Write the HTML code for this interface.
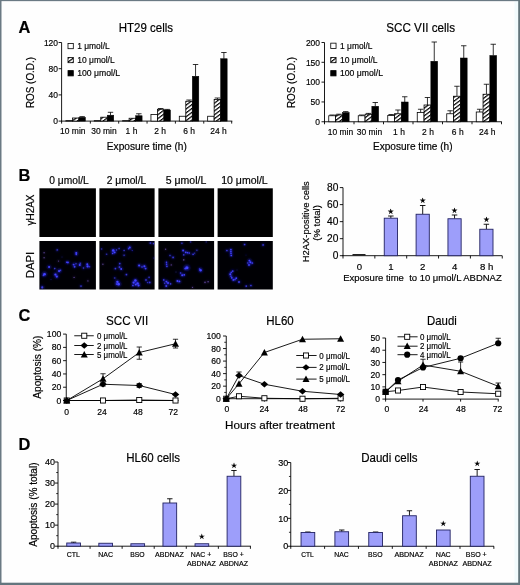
<!DOCTYPE html>
<html lang="en">
<head>
<meta charset="utf-8">
<title>Figure</title>
<style>
html,body{margin:0;padding:0;background:#fff;}
body{width:520px;height:585px;overflow:hidden;}
svg{display:block;font-family:"Liberation Sans", sans-serif;}
text{white-space:pre;stroke:#000;stroke-width:0.18px;}
</style>
</head>
<body>
<svg width="520" height="585" viewBox="0 0 520 585">
<defs>
<pattern id="hatch" patternUnits="userSpaceOnUse" width="3.1" height="3.1" patternTransform="rotate(-37)">
<rect width="3.1" height="3.1" fill="#fff"/>
<rect x="0" y="0" width="3.1" height="1.2" fill="#000"/>
</pattern>
<clipPath id="dapiclip"><rect x="39.4" y="241" width="56.50" height="48.5"/><rect x="99.4" y="241" width="55.20" height="48.5"/><rect x="158.4" y="241" width="55.70" height="48.5"/><rect x="217.6" y="241" width="55.20" height="48.5"/></clipPath>
<filter id="blur" x="-5%" y="-5%" width="110%" height="110%"><feGaussianBlur stdDeviation="0.4"/></filter>
<filter id="blur2" x="-5%" y="-5%" width="110%" height="110%"><feGaussianBlur stdDeviation="0.8"/></filter>
</defs>
<rect x="0" y="0" width="520" height="585" fill="#fefefe"/>
<text x="18.60" y="32.60" font-size="16.4" text-anchor="start" fill="#000" font-weight="bold">A</text>
<line x1="61.60" y1="42.50" x2="61.60" y2="121.50" stroke="#000" stroke-width="0.9"/>
<line x1="61.20" y1="121.10" x2="232.30" y2="121.10" stroke="#000" stroke-width="0.9"/>
<line x1="58.60" y1="121.10" x2="61.60" y2="121.10" stroke="#000" stroke-width="0.9"/>
<text x="58.00" y="124.30" font-size="9.3" text-anchor="end" fill="#000" textLength="4.71" lengthAdjust="spacingAndGlyphs">0</text>
<line x1="58.60" y1="94.90" x2="61.60" y2="94.90" stroke="#000" stroke-width="0.9"/>
<text x="58.00" y="98.10" font-size="9.3" text-anchor="end" fill="#000" textLength="9.41" lengthAdjust="spacingAndGlyphs">40</text>
<line x1="58.60" y1="68.70" x2="61.60" y2="68.70" stroke="#000" stroke-width="0.9"/>
<text x="58.00" y="71.90" font-size="9.3" text-anchor="end" fill="#000" textLength="9.41" lengthAdjust="spacingAndGlyphs">80</text>
<line x1="58.60" y1="42.50" x2="61.60" y2="42.50" stroke="#000" stroke-width="0.9"/>
<text x="58.00" y="45.70" font-size="9.3" text-anchor="end" fill="#000" textLength="14.12" lengthAdjust="spacingAndGlyphs">120</text>
<line x1="61.60" y1="121.10" x2="61.60" y2="123.60" stroke="#000" stroke-width="0.9"/>
<line x1="90.35" y1="121.10" x2="90.35" y2="123.60" stroke="#000" stroke-width="0.9"/>
<line x1="118.70" y1="121.10" x2="118.70" y2="123.60" stroke="#000" stroke-width="0.9"/>
<line x1="147.05" y1="121.10" x2="147.05" y2="123.60" stroke="#000" stroke-width="0.9"/>
<line x1="175.40" y1="121.10" x2="175.40" y2="123.60" stroke="#000" stroke-width="0.9"/>
<line x1="203.75" y1="121.10" x2="203.75" y2="123.60" stroke="#000" stroke-width="0.9"/>
<line x1="231.70" y1="121.10" x2="231.70" y2="123.60" stroke="#000" stroke-width="0.9"/>
<rect x="65.90" y="120.60" width="6.50" height="0.50" fill="#fff" stroke="#000" stroke-width="0.8"/>
<rect x="72.40" y="118.00" width="6.50" height="3.10" fill="url(#hatch)" stroke="#000" stroke-width="0.8"/>
<line x1="82.15" y1="116.60" x2="82.15" y2="117.30" stroke="#000" stroke-width="0.8"/>
<line x1="79.45" y1="116.60" x2="84.85" y2="116.60" stroke="#000" stroke-width="0.8"/>
<rect x="78.90" y="117.30" width="6.50" height="3.80" fill="#000" stroke="#000" stroke-width="0.5"/>
<rect x="94.25" y="120.60" width="6.50" height="0.50" fill="#fff" stroke="#000" stroke-width="0.8"/>
<rect x="100.75" y="117.20" width="6.50" height="3.90" fill="url(#hatch)" stroke="#000" stroke-width="0.8"/>
<line x1="110.50" y1="112.30" x2="110.50" y2="115.20" stroke="#000" stroke-width="0.8"/>
<line x1="107.80" y1="112.30" x2="113.20" y2="112.30" stroke="#000" stroke-width="0.8"/>
<rect x="107.25" y="115.20" width="6.50" height="5.90" fill="#000" stroke="#000" stroke-width="0.5"/>
<rect x="122.60" y="120.60" width="6.50" height="0.50" fill="#fff" stroke="#000" stroke-width="0.8"/>
<rect x="129.10" y="118.25" width="6.50" height="2.85" fill="url(#hatch)" stroke="#000" stroke-width="0.8"/>
<line x1="138.85" y1="113.75" x2="138.85" y2="115.75" stroke="#000" stroke-width="0.8"/>
<line x1="136.15" y1="113.75" x2="141.55" y2="113.75" stroke="#000" stroke-width="0.8"/>
<rect x="135.60" y="115.75" width="6.50" height="5.35" fill="#000" stroke="#000" stroke-width="0.5"/>
<rect x="150.95" y="114.50" width="6.50" height="6.60" fill="#fff" stroke="#000" stroke-width="0.8"/>
<line x1="160.70" y1="108.50" x2="160.70" y2="109.25" stroke="#000" stroke-width="0.8"/>
<line x1="158.00" y1="108.50" x2="163.40" y2="108.50" stroke="#000" stroke-width="0.8"/>
<rect x="157.45" y="109.25" width="6.50" height="11.85" fill="url(#hatch)" stroke="#000" stroke-width="0.8"/>
<line x1="167.20" y1="109.40" x2="167.20" y2="110.00" stroke="#000" stroke-width="0.8"/>
<line x1="164.50" y1="109.40" x2="169.90" y2="109.40" stroke="#000" stroke-width="0.8"/>
<rect x="163.95" y="110.00" width="6.50" height="11.10" fill="#000" stroke="#000" stroke-width="0.5"/>
<rect x="179.30" y="116.25" width="6.50" height="4.85" fill="#fff" stroke="#000" stroke-width="0.8"/>
<line x1="189.05" y1="100.00" x2="189.05" y2="101.25" stroke="#000" stroke-width="0.8"/>
<line x1="186.35" y1="100.00" x2="191.75" y2="100.00" stroke="#000" stroke-width="0.8"/>
<rect x="185.80" y="101.25" width="6.50" height="19.85" fill="url(#hatch)" stroke="#000" stroke-width="0.8"/>
<line x1="195.55" y1="64.50" x2="195.55" y2="76.25" stroke="#000" stroke-width="0.8"/>
<line x1="192.85" y1="64.50" x2="198.25" y2="64.50" stroke="#000" stroke-width="0.8"/>
<rect x="192.30" y="76.25" width="6.50" height="44.85" fill="#000" stroke="#000" stroke-width="0.5"/>
<rect x="207.65" y="116.25" width="6.50" height="4.85" fill="#fff" stroke="#000" stroke-width="0.8"/>
<line x1="217.40" y1="98.00" x2="217.40" y2="99.50" stroke="#000" stroke-width="0.8"/>
<line x1="214.70" y1="98.00" x2="220.10" y2="98.00" stroke="#000" stroke-width="0.8"/>
<rect x="214.15" y="99.50" width="6.50" height="21.60" fill="url(#hatch)" stroke="#000" stroke-width="0.8"/>
<line x1="223.90" y1="52.50" x2="223.90" y2="58.75" stroke="#000" stroke-width="0.8"/>
<line x1="221.20" y1="52.50" x2="226.60" y2="52.50" stroke="#000" stroke-width="0.8"/>
<rect x="220.65" y="58.75" width="6.50" height="62.35" fill="#000" stroke="#000" stroke-width="0.5"/>
<text x="72.80" y="133.90" font-size="9.4" text-anchor="middle" fill="#000" textLength="25.39" lengthAdjust="spacingAndGlyphs">10 min</text>
<text x="104.00" y="133.90" font-size="9.4" text-anchor="middle" fill="#000" textLength="25.39" lengthAdjust="spacingAndGlyphs">30 min</text>
<text x="131.50" y="133.90" font-size="9.4" text-anchor="middle" fill="#000" textLength="11.76" lengthAdjust="spacingAndGlyphs">1 h</text>
<text x="160.20" y="133.90" font-size="9.4" text-anchor="middle" fill="#000" textLength="11.76" lengthAdjust="spacingAndGlyphs">2 h</text>
<text x="189.10" y="133.90" font-size="9.4" text-anchor="middle" fill="#000" textLength="11.76" lengthAdjust="spacingAndGlyphs">6 h</text>
<text x="218.50" y="133.90" font-size="9.4" text-anchor="middle" fill="#000" textLength="16.47" lengthAdjust="spacingAndGlyphs">24 h</text>
<text x="146.85" y="150.00" font-size="10" text-anchor="middle" fill="#000" textLength="80.10" lengthAdjust="spacingAndGlyphs">Exposure time (h)</text>
<text x="145.85" y="31.50" font-size="12.2" text-anchor="middle" fill="#000" textLength="54.30" lengthAdjust="spacingAndGlyphs">HT29 cells</text>
<text x="34.40" y="82.50" font-size="10" text-anchor="middle" fill="#000" textLength="51.00" lengthAdjust="spacingAndGlyphs" transform="rotate(-90 34.40 82.50)">ROS (O.D.)</text>
<rect x="68.00" y="43.40" width="5.30" height="5.30" fill="#fff" stroke="#000" stroke-width="0.8"/>
<text x="77.20" y="49.10" font-size="9.2" text-anchor="start" fill="#000" textLength="32.50" lengthAdjust="spacingAndGlyphs">1 μmol/L</text>
<rect x="68.00" y="57.40" width="5.30" height="5.30" fill="url(#hatch)" stroke="#000" stroke-width="0.8"/>
<text x="77.20" y="63.10" font-size="9.2" text-anchor="start" fill="#000" textLength="37.50" lengthAdjust="spacingAndGlyphs">10 μmol/L</text>
<rect x="68.00" y="70.60" width="5.30" height="5.30" fill="#000" stroke="#000" stroke-width="0.8"/>
<text x="77.20" y="76.30" font-size="9.2" text-anchor="start" fill="#000" textLength="43.00" lengthAdjust="spacingAndGlyphs">100 μmol/L</text>
<line x1="324.50" y1="42.50" x2="324.50" y2="122.15" stroke="#000" stroke-width="0.9"/>
<line x1="324.10" y1="121.75" x2="501.70" y2="121.75" stroke="#000" stroke-width="0.9"/>
<line x1="321.50" y1="121.75" x2="324.50" y2="121.75" stroke="#000" stroke-width="0.9"/>
<text x="320.00" y="124.95" font-size="9.3" text-anchor="end" fill="#000" textLength="4.71" lengthAdjust="spacingAndGlyphs">0</text>
<line x1="321.50" y1="101.94" x2="324.50" y2="101.94" stroke="#000" stroke-width="0.9"/>
<text x="320.00" y="105.14" font-size="9.3" text-anchor="end" fill="#000" textLength="9.41" lengthAdjust="spacingAndGlyphs">50</text>
<line x1="321.50" y1="82.12" x2="324.50" y2="82.12" stroke="#000" stroke-width="0.9"/>
<text x="320.00" y="85.33" font-size="9.3" text-anchor="end" fill="#000" textLength="14.12" lengthAdjust="spacingAndGlyphs">100</text>
<line x1="321.50" y1="62.31" x2="324.50" y2="62.31" stroke="#000" stroke-width="0.9"/>
<text x="320.00" y="65.51" font-size="9.3" text-anchor="end" fill="#000" textLength="14.12" lengthAdjust="spacingAndGlyphs">150</text>
<line x1="321.50" y1="42.50" x2="324.50" y2="42.50" stroke="#000" stroke-width="0.9"/>
<text x="320.00" y="45.70" font-size="9.3" text-anchor="end" fill="#000" textLength="14.12" lengthAdjust="spacingAndGlyphs">200</text>
<line x1="324.50" y1="121.75" x2="324.50" y2="124.25" stroke="#000" stroke-width="0.9"/>
<line x1="354.00" y1="121.75" x2="354.00" y2="124.25" stroke="#000" stroke-width="0.9"/>
<line x1="383.50" y1="121.75" x2="383.50" y2="124.25" stroke="#000" stroke-width="0.9"/>
<line x1="413.00" y1="121.75" x2="413.00" y2="124.25" stroke="#000" stroke-width="0.9"/>
<line x1="442.50" y1="121.75" x2="442.50" y2="124.25" stroke="#000" stroke-width="0.9"/>
<line x1="472.00" y1="121.75" x2="472.00" y2="124.25" stroke="#000" stroke-width="0.9"/>
<line x1="501.50" y1="121.75" x2="501.50" y2="124.25" stroke="#000" stroke-width="0.9"/>
<line x1="332.15" y1="115.00" x2="332.15" y2="115.75" stroke="#000" stroke-width="0.8"/>
<line x1="329.45" y1="115.00" x2="334.85" y2="115.00" stroke="#000" stroke-width="0.8"/>
<rect x="328.75" y="115.75" width="6.80" height="6.00" fill="#fff" stroke="#000" stroke-width="0.8"/>
<line x1="338.95" y1="114.20" x2="338.95" y2="115.00" stroke="#000" stroke-width="0.8"/>
<line x1="336.25" y1="114.20" x2="341.65" y2="114.20" stroke="#000" stroke-width="0.8"/>
<rect x="335.55" y="115.00" width="6.80" height="6.75" fill="url(#hatch)" stroke="#000" stroke-width="0.8"/>
<line x1="345.75" y1="111.60" x2="345.75" y2="112.50" stroke="#000" stroke-width="0.8"/>
<line x1="343.05" y1="111.60" x2="348.45" y2="111.60" stroke="#000" stroke-width="0.8"/>
<rect x="342.35" y="112.50" width="6.80" height="9.25" fill="#000" stroke="#000" stroke-width="0.5"/>
<line x1="361.65" y1="115.00" x2="361.65" y2="115.75" stroke="#000" stroke-width="0.8"/>
<line x1="358.95" y1="115.00" x2="364.35" y2="115.00" stroke="#000" stroke-width="0.8"/>
<rect x="358.25" y="115.75" width="6.80" height="6.00" fill="#fff" stroke="#000" stroke-width="0.8"/>
<line x1="368.45" y1="113.40" x2="368.45" y2="114.25" stroke="#000" stroke-width="0.8"/>
<line x1="365.75" y1="113.40" x2="371.15" y2="113.40" stroke="#000" stroke-width="0.8"/>
<rect x="365.05" y="114.25" width="6.80" height="7.50" fill="url(#hatch)" stroke="#000" stroke-width="0.8"/>
<line x1="375.25" y1="102.50" x2="375.25" y2="106.25" stroke="#000" stroke-width="0.8"/>
<line x1="372.55" y1="102.50" x2="377.95" y2="102.50" stroke="#000" stroke-width="0.8"/>
<rect x="371.85" y="106.25" width="6.80" height="15.50" fill="#000" stroke="#000" stroke-width="0.5"/>
<line x1="391.15" y1="114.50" x2="391.15" y2="115.50" stroke="#000" stroke-width="0.8"/>
<line x1="388.45" y1="114.50" x2="393.85" y2="114.50" stroke="#000" stroke-width="0.8"/>
<rect x="387.75" y="115.50" width="6.80" height="6.25" fill="#fff" stroke="#000" stroke-width="0.8"/>
<line x1="397.95" y1="110.00" x2="397.95" y2="113.75" stroke="#000" stroke-width="0.8"/>
<line x1="395.25" y1="110.00" x2="400.65" y2="110.00" stroke="#000" stroke-width="0.8"/>
<rect x="394.55" y="113.75" width="6.80" height="8.00" fill="url(#hatch)" stroke="#000" stroke-width="0.8"/>
<line x1="404.75" y1="96.75" x2="404.75" y2="102.00" stroke="#000" stroke-width="0.8"/>
<line x1="402.05" y1="96.75" x2="407.45" y2="96.75" stroke="#000" stroke-width="0.8"/>
<rect x="401.35" y="102.00" width="6.80" height="19.75" fill="#000" stroke="#000" stroke-width="0.5"/>
<line x1="420.65" y1="109.25" x2="420.65" y2="112.50" stroke="#000" stroke-width="0.8"/>
<line x1="417.95" y1="109.25" x2="423.35" y2="109.25" stroke="#000" stroke-width="0.8"/>
<rect x="417.25" y="112.50" width="6.80" height="9.25" fill="#fff" stroke="#000" stroke-width="0.8"/>
<line x1="427.45" y1="97.50" x2="427.45" y2="105.00" stroke="#000" stroke-width="0.8"/>
<line x1="424.75" y1="97.50" x2="430.15" y2="97.50" stroke="#000" stroke-width="0.8"/>
<rect x="424.05" y="105.00" width="6.80" height="16.75" fill="url(#hatch)" stroke="#000" stroke-width="0.8"/>
<line x1="434.25" y1="42.00" x2="434.25" y2="61.25" stroke="#000" stroke-width="0.8"/>
<line x1="431.55" y1="42.00" x2="436.95" y2="42.00" stroke="#000" stroke-width="0.8"/>
<rect x="430.85" y="61.25" width="6.80" height="60.50" fill="#000" stroke="#000" stroke-width="0.5"/>
<line x1="450.15" y1="110.75" x2="450.15" y2="113.75" stroke="#000" stroke-width="0.8"/>
<line x1="447.45" y1="110.75" x2="452.85" y2="110.75" stroke="#000" stroke-width="0.8"/>
<rect x="446.75" y="113.75" width="6.80" height="8.00" fill="#fff" stroke="#000" stroke-width="0.8"/>
<line x1="456.95" y1="86.25" x2="456.95" y2="96.25" stroke="#000" stroke-width="0.8"/>
<line x1="454.25" y1="86.25" x2="459.65" y2="86.25" stroke="#000" stroke-width="0.8"/>
<rect x="453.55" y="96.25" width="6.80" height="25.50" fill="url(#hatch)" stroke="#000" stroke-width="0.8"/>
<line x1="463.75" y1="45.75" x2="463.75" y2="58.00" stroke="#000" stroke-width="0.8"/>
<line x1="461.05" y1="45.75" x2="466.45" y2="45.75" stroke="#000" stroke-width="0.8"/>
<rect x="460.35" y="58.00" width="6.80" height="63.75" fill="#000" stroke="#000" stroke-width="0.5"/>
<line x1="479.65" y1="109.25" x2="479.65" y2="112.00" stroke="#000" stroke-width="0.8"/>
<line x1="476.95" y1="109.25" x2="482.35" y2="109.25" stroke="#000" stroke-width="0.8"/>
<rect x="476.25" y="112.00" width="6.80" height="9.75" fill="#fff" stroke="#000" stroke-width="0.8"/>
<line x1="486.45" y1="84.25" x2="486.45" y2="94.25" stroke="#000" stroke-width="0.8"/>
<line x1="483.75" y1="84.25" x2="489.15" y2="84.25" stroke="#000" stroke-width="0.8"/>
<rect x="483.05" y="94.25" width="6.80" height="27.50" fill="url(#hatch)" stroke="#000" stroke-width="0.8"/>
<line x1="493.25" y1="44.25" x2="493.25" y2="55.50" stroke="#000" stroke-width="0.8"/>
<line x1="490.55" y1="44.25" x2="495.95" y2="44.25" stroke="#000" stroke-width="0.8"/>
<rect x="489.85" y="55.50" width="6.80" height="66.25" fill="#000" stroke="#000" stroke-width="0.5"/>
<text x="340.50" y="134.95" font-size="9.4" text-anchor="middle" fill="#000" textLength="25.39" lengthAdjust="spacingAndGlyphs">10 min</text>
<text x="369.40" y="134.95" font-size="9.4" text-anchor="middle" fill="#000" textLength="25.39" lengthAdjust="spacingAndGlyphs">30 min</text>
<text x="399.00" y="134.95" font-size="9.4" text-anchor="middle" fill="#000" textLength="11.76" lengthAdjust="spacingAndGlyphs">1 h</text>
<text x="428.00" y="134.95" font-size="9.4" text-anchor="middle" fill="#000" textLength="11.76" lengthAdjust="spacingAndGlyphs">2 h</text>
<text x="457.75" y="134.95" font-size="9.4" text-anchor="middle" fill="#000" textLength="11.76" lengthAdjust="spacingAndGlyphs">6 h</text>
<text x="487.25" y="134.95" font-size="9.4" text-anchor="middle" fill="#000" textLength="16.47" lengthAdjust="spacingAndGlyphs">24 h</text>
<text x="412.75" y="150.00" font-size="10" text-anchor="middle" fill="#000" textLength="79.50" lengthAdjust="spacingAndGlyphs">Exposure time (h)</text>
<text x="420.62" y="31.50" font-size="12.2" text-anchor="middle" fill="#000" textLength="68.75" lengthAdjust="spacingAndGlyphs">SCC VII cells</text>
<text x="295.20" y="82.50" font-size="10" text-anchor="middle" fill="#000" textLength="51.00" lengthAdjust="spacingAndGlyphs" transform="rotate(-90 295.20 82.50)">ROS (O.D.)</text>
<rect x="330.75" y="43.15" width="5.30" height="5.30" fill="#fff" stroke="#000" stroke-width="0.8"/>
<text x="340.00" y="48.85" font-size="9.2" text-anchor="start" fill="#000" textLength="32.50" lengthAdjust="spacingAndGlyphs">1 μmol/L</text>
<rect x="330.75" y="57.40" width="5.30" height="5.30" fill="url(#hatch)" stroke="#000" stroke-width="0.8"/>
<text x="340.00" y="63.10" font-size="9.2" text-anchor="start" fill="#000" textLength="37.50" lengthAdjust="spacingAndGlyphs">10 μmol/L</text>
<rect x="330.75" y="70.60" width="5.30" height="5.30" fill="#000" stroke="#000" stroke-width="0.8"/>
<text x="340.00" y="76.30" font-size="9.2" text-anchor="start" fill="#000" textLength="43.00" lengthAdjust="spacingAndGlyphs">100 μmol/L</text>
<text x="18.40" y="181.40" font-size="16.4" text-anchor="start" fill="#000" font-weight="bold">B</text>
<rect x="39.40" y="188.30" width="56.50" height="48.70" fill="#000"/>
<rect x="39.40" y="241.00" width="56.50" height="48.50" fill="#000004"/>
<text x="69.00" y="184.30" font-size="10.2" text-anchor="middle" fill="#000" textLength="39.50" lengthAdjust="spacingAndGlyphs">0 μmol/L</text>
<rect x="99.40" y="188.30" width="55.20" height="48.70" fill="#000"/>
<rect x="99.40" y="241.00" width="55.20" height="48.50" fill="#000004"/>
<text x="126.45" y="184.30" font-size="10.2" text-anchor="middle" fill="#000" textLength="39.50" lengthAdjust="spacingAndGlyphs">2 μmol/L</text>
<rect x="158.40" y="188.30" width="55.70" height="48.70" fill="#000"/>
<rect x="158.40" y="241.00" width="55.70" height="48.50" fill="#000004"/>
<text x="186.00" y="184.30" font-size="10.2" text-anchor="middle" fill="#000" textLength="40.50" lengthAdjust="spacingAndGlyphs">5 μmol/L</text>
<rect x="217.60" y="188.30" width="55.20" height="48.70" fill="#000"/>
<rect x="217.60" y="241.00" width="55.20" height="48.50" fill="#000004"/>
<text x="244.47" y="184.30" font-size="10.2" text-anchor="middle" fill="#000" textLength="46.45" lengthAdjust="spacingAndGlyphs">10 μmol/L</text>
<text x="33.60" y="210.00" font-size="10.5" text-anchor="middle" fill="#000" textLength="31.00" lengthAdjust="spacingAndGlyphs" transform="rotate(-90 33.60 210.00)">γH2AX</text>
<text x="33.60" y="265.00" font-size="10.8" text-anchor="middle" fill="#000" textLength="26.40" lengthAdjust="spacingAndGlyphs" transform="rotate(-90 33.60 265.00)">DAPI</text>
<g clip-path="url(#dapiclip)">
<g filter="url(#blur2)">
<circle cx="44.10" cy="252.75" r="1.30" fill="rgba(90,60,170,0.25)"/>
<circle cx="44.10" cy="257.75" r="1.30" fill="rgba(90,60,170,0.23)"/>
<circle cx="57.25" cy="249.90" r="1.74" fill="rgba(36,36,235,0.33)"/>
<circle cx="76.25" cy="253.00" r="1.89" fill="rgba(36,36,235,0.55)"/>
<circle cx="76.25" cy="254.50" r="1.45" fill="rgba(36,36,235,0.55)"/>
<circle cx="67.90" cy="262.40" r="1.74" fill="rgba(36,36,235,0.55)"/>
<circle cx="66.60" cy="262.20" r="1.30" fill="rgba(36,36,235,0.50)"/>
<circle cx="58.50" cy="261.10" r="1.30" fill="rgba(90,60,170,0.23)"/>
<circle cx="73.60" cy="264.60" r="1.74" fill="rgba(36,36,235,0.50)"/>
<circle cx="74.60" cy="266.80" r="1.74" fill="rgba(36,36,235,0.50)"/>
<circle cx="76.00" cy="263.80" r="1.30" fill="rgba(36,36,235,0.44)"/>
<circle cx="79.75" cy="264.90" r="1.89" fill="rgba(36,36,235,0.55)"/>
<circle cx="80.20" cy="263.20" r="1.30" fill="rgba(36,36,235,0.44)"/>
<circle cx="87.25" cy="264.20" r="1.74" fill="rgba(36,36,235,0.55)"/>
<circle cx="87.60" cy="266.40" r="2.03" fill="rgba(36,36,235,0.55)"/>
<circle cx="83.50" cy="268.00" r="1.45" fill="rgba(36,36,235,0.44)"/>
<circle cx="89.50" cy="266.80" r="1.30" fill="rgba(36,36,235,0.39)"/>
<circle cx="49.10" cy="267.00" r="1.89" fill="rgba(36,36,235,0.55)"/>
<circle cx="54.75" cy="268.60" r="1.45" fill="rgba(36,36,235,0.44)"/>
<circle cx="59.10" cy="271.10" r="2.03" fill="rgba(36,36,235,0.55)"/>
<circle cx="60.50" cy="270.20" r="1.45" fill="rgba(36,36,235,0.44)"/>
<circle cx="44.50" cy="274.25" r="2.46" fill="rgba(36,36,235,0.55)"/>
<circle cx="43.40" cy="275.50" r="1.45" fill="rgba(36,36,235,0.44)"/>
<circle cx="55.40" cy="274.60" r="2.03" fill="rgba(36,36,235,0.55)"/>
<circle cx="56.80" cy="276.60" r="2.03" fill="rgba(36,36,235,0.55)"/>
<circle cx="74.10" cy="277.40" r="1.30" fill="rgba(90,60,170,0.23)"/>
<circle cx="87.90" cy="280.90" r="1.30" fill="rgba(90,60,170,0.23)"/>
<circle cx="81.00" cy="286.10" r="1.59" fill="rgba(36,36,235,0.39)"/>
<circle cx="42.25" cy="287.40" r="2.03" fill="rgba(36,36,235,0.44)"/>
<circle cx="51.00" cy="279.50" r="1.16" fill="rgba(36,36,235,0.17)"/>
<circle cx="62.00" cy="257.00" r="1.16" fill="rgba(36,36,235,0.14)"/>
<circle cx="101.60" cy="249.00" r="1.45" fill="rgba(36,36,235,0.33)"/>
<circle cx="106.60" cy="254.25" r="1.45" fill="rgba(36,36,235,0.33)"/>
<circle cx="113.20" cy="250.60" r="2.32" fill="rgba(36,36,235,0.55)"/>
<circle cx="114.60" cy="252.40" r="1.74" fill="rgba(36,36,235,0.55)"/>
<circle cx="112.60" cy="253.50" r="1.45" fill="rgba(36,36,235,0.50)"/>
<circle cx="116.50" cy="250.00" r="1.30" fill="rgba(36,36,235,0.44)"/>
<circle cx="119.10" cy="248.60" r="1.45" fill="rgba(36,36,235,0.39)"/>
<circle cx="124.10" cy="250.50" r="1.45" fill="rgba(36,36,235,0.39)"/>
<circle cx="124.10" cy="255.25" r="1.45" fill="rgba(36,36,235,0.39)"/>
<circle cx="129.75" cy="247.40" r="1.89" fill="rgba(36,36,235,0.55)"/>
<circle cx="128.60" cy="248.80" r="1.45" fill="rgba(36,36,235,0.50)"/>
<circle cx="132.25" cy="250.50" r="1.30" fill="rgba(36,36,235,0.28)"/>
<circle cx="150.40" cy="243.00" r="1.59" fill="rgba(36,36,235,0.44)"/>
<circle cx="153.50" cy="243.60" r="1.45" fill="rgba(36,36,235,0.44)"/>
<circle cx="154.10" cy="258.00" r="1.16" fill="rgba(36,36,235,0.33)"/>
<circle cx="102.90" cy="264.25" r="1.30" fill="rgba(90,60,170,0.23)"/>
<circle cx="119.75" cy="263.60" r="1.59" fill="rgba(36,36,235,0.44)"/>
<circle cx="115.40" cy="268.60" r="1.59" fill="rgba(36,36,235,0.44)"/>
<circle cx="119.40" cy="267.00" r="1.59" fill="rgba(36,36,235,0.50)"/>
<circle cx="121.20" cy="269.00" r="1.74" fill="rgba(36,36,235,0.55)"/>
<circle cx="139.10" cy="265.50" r="1.89" fill="rgba(36,36,235,0.55)"/>
<circle cx="142.00" cy="267.00" r="1.45" fill="rgba(36,36,235,0.50)"/>
<circle cx="144.40" cy="266.20" r="1.89" fill="rgba(36,36,235,0.55)"/>
<circle cx="145.60" cy="268.60" r="1.74" fill="rgba(36,36,235,0.50)"/>
<circle cx="126.40" cy="274.60" r="1.59" fill="rgba(36,36,235,0.44)"/>
<circle cx="114.75" cy="278.00" r="1.45" fill="rgba(36,36,235,0.39)"/>
<circle cx="117.40" cy="281.80" r="2.17" fill="rgba(36,36,235,0.55)"/>
<circle cx="118.60" cy="284.20" r="2.46" fill="rgba(36,36,235,0.55)"/>
<circle cx="116.60" cy="284.00" r="1.59" fill="rgba(36,36,235,0.50)"/>
<circle cx="135.40" cy="280.60" r="2.32" fill="rgba(36,36,235,0.55)"/>
<circle cx="133.60" cy="282.60" r="2.03" fill="rgba(36,36,235,0.55)"/>
<circle cx="137.60" cy="283.40" r="2.17" fill="rgba(36,36,235,0.55)"/>
<circle cx="138.60" cy="285.40" r="1.89" fill="rgba(36,36,235,0.55)"/>
<circle cx="132.90" cy="285.50" r="1.59" fill="rgba(36,36,235,0.50)"/>
<circle cx="135.80" cy="284.60" r="1.74" fill="rgba(36,36,235,0.55)"/>
<circle cx="146.00" cy="279.90" r="1.59" fill="rgba(36,36,235,0.44)"/>
<circle cx="149.10" cy="277.40" r="1.45" fill="rgba(36,36,235,0.39)"/>
<circle cx="149.75" cy="282.40" r="1.59" fill="rgba(36,36,235,0.44)"/>
<circle cx="147.60" cy="282.60" r="1.30" fill="rgba(36,36,235,0.39)"/>
<circle cx="165.60" cy="249.25" r="1.30" fill="rgba(90,60,170,0.23)"/>
<circle cx="181.90" cy="243.25" r="1.45" fill="rgba(36,36,235,0.39)"/>
<circle cx="190.60" cy="241.90" r="1.30" fill="rgba(36,36,235,0.33)"/>
<circle cx="206.25" cy="241.90" r="1.30" fill="rgba(36,36,235,0.22)"/>
<circle cx="183.10" cy="250.50" r="1.74" fill="rgba(36,36,235,0.55)"/>
<circle cx="185.80" cy="252.40" r="1.45" fill="rgba(36,36,235,0.55)"/>
<circle cx="187.50" cy="252.75" r="1.45" fill="rgba(36,36,235,0.55)"/>
<circle cx="189.20" cy="253.10" r="1.45" fill="rgba(36,36,235,0.50)"/>
<circle cx="183.75" cy="254.90" r="1.45" fill="rgba(36,36,235,0.44)"/>
<circle cx="193.10" cy="254.25" r="1.59" fill="rgba(36,36,235,0.44)"/>
<circle cx="194.60" cy="253.20" r="1.16" fill="rgba(36,36,235,0.33)"/>
<circle cx="196.90" cy="250.25" r="1.45" fill="rgba(36,36,235,0.33)"/>
<circle cx="170.00" cy="255.50" r="1.45" fill="rgba(36,36,235,0.39)"/>
<circle cx="173.10" cy="257.40" r="1.59" fill="rgba(36,36,235,0.44)"/>
<circle cx="183.75" cy="259.90" r="1.45" fill="rgba(90,60,170,0.23)"/>
<circle cx="166.50" cy="262.20" r="1.45" fill="rgba(36,36,235,0.50)"/>
<circle cx="166.60" cy="264.20" r="1.45" fill="rgba(36,36,235,0.50)"/>
<circle cx="166.90" cy="266.40" r="1.45" fill="rgba(36,36,235,0.50)"/>
<circle cx="171.25" cy="264.90" r="1.30" fill="rgba(90,60,170,0.25)"/>
<circle cx="186.90" cy="267.75" r="2.90" fill="rgba(36,36,235,0.55)"/>
<circle cx="185.20" cy="268.60" r="1.74" fill="rgba(36,36,235,0.50)"/>
<circle cx="200.60" cy="270.25" r="2.17" fill="rgba(36,36,235,0.55)"/>
<circle cx="199.60" cy="269.00" r="1.45" fill="rgba(36,36,235,0.44)"/>
<circle cx="180.60" cy="273.00" r="1.45" fill="rgba(36,36,235,0.44)"/>
<circle cx="182.20" cy="275.20" r="1.74" fill="rgba(36,36,235,0.55)"/>
<circle cx="184.20" cy="274.80" r="1.59" fill="rgba(36,36,235,0.55)"/>
<circle cx="163.75" cy="279.90" r="1.59" fill="rgba(36,36,235,0.44)"/>
<circle cx="166.40" cy="281.60" r="1.74" fill="rgba(36,36,235,0.55)"/>
<circle cx="168.00" cy="283.00" r="1.89" fill="rgba(36,36,235,0.55)"/>
<circle cx="166.25" cy="286.10" r="1.89" fill="rgba(36,36,235,0.50)"/>
<circle cx="170.60" cy="283.90" r="1.45" fill="rgba(36,36,235,0.44)"/>
<circle cx="164.60" cy="283.20" r="1.30" fill="rgba(36,36,235,0.39)"/>
<circle cx="177.40" cy="281.00" r="1.74" fill="rgba(36,36,235,0.55)"/>
<circle cx="179.40" cy="281.40" r="1.74" fill="rgba(36,36,235,0.55)"/>
<circle cx="205.00" cy="282.40" r="1.45" fill="rgba(90,60,170,0.25)"/>
<circle cx="208.10" cy="281.75" r="1.45" fill="rgba(90,60,170,0.25)"/>
<circle cx="192.50" cy="287.40" r="1.30" fill="rgba(90,60,170,0.23)"/>
<circle cx="176.00" cy="272.00" r="1.16" fill="rgba(36,36,235,0.17)"/>
<circle cx="244.60" cy="244.50" r="1.59" fill="rgba(36,36,235,0.44)"/>
<circle cx="263.10" cy="244.90" r="1.59" fill="rgba(36,36,235,0.44)"/>
<circle cx="226.90" cy="250.50" r="1.59" fill="rgba(36,36,235,0.44)"/>
<circle cx="230.90" cy="249.60" r="1.59" fill="rgba(36,36,235,0.55)"/>
<circle cx="230.90" cy="251.60" r="1.45" fill="rgba(36,36,235,0.55)"/>
<circle cx="231.00" cy="253.40" r="1.45" fill="rgba(36,36,235,0.55)"/>
<circle cx="231.25" cy="255.50" r="1.59" fill="rgba(36,36,235,0.55)"/>
<circle cx="249.40" cy="260.60" r="1.74" fill="rgba(36,36,235,0.55)"/>
<circle cx="250.40" cy="262.20" r="1.74" fill="rgba(36,36,235,0.55)"/>
<circle cx="252.30" cy="263.00" r="1.59" fill="rgba(36,36,235,0.50)"/>
<circle cx="249.00" cy="264.90" r="1.74" fill="rgba(36,36,235,0.55)"/>
<circle cx="247.80" cy="263.00" r="1.30" fill="rgba(36,36,235,0.44)"/>
<circle cx="232.75" cy="271.10" r="1.59" fill="rgba(36,36,235,0.50)"/>
<circle cx="231.20" cy="272.40" r="1.45" fill="rgba(36,36,235,0.50)"/>
<circle cx="230.25" cy="274.25" r="1.74" fill="rgba(36,36,235,0.55)"/>
<circle cx="231.00" cy="276.20" r="1.45" fill="rgba(36,36,235,0.50)"/>
<circle cx="231.80" cy="277.80" r="1.59" fill="rgba(36,36,235,0.55)"/>
<circle cx="233.40" cy="279.90" r="1.74" fill="rgba(36,36,235,0.55)"/>
<circle cx="235.00" cy="279.60" r="1.45" fill="rgba(36,36,235,0.50)"/>
<circle cx="236.25" cy="278.20" r="1.59" fill="rgba(36,36,235,0.55)"/>
<circle cx="239.00" cy="282.00" r="1.74" fill="rgba(36,36,235,0.50)"/>
<circle cx="246.25" cy="286.10" r="1.59" fill="rgba(36,36,235,0.44)"/>
<circle cx="250.90" cy="285.50" r="1.59" fill="rgba(36,36,235,0.44)"/>
<circle cx="237.00" cy="270.00" r="1.16" fill="rgba(36,36,235,0.14)"/>
<circle cx="246.00" cy="255.00" r="1.16" fill="rgba(36,36,235,0.11)"/>
</g>
<g filter="url(#blur)">
<circle cx="44.10" cy="252.75" r="0.70" fill="rgba(125,90,200,0.70)"/>
<circle cx="44.10" cy="257.75" r="0.70" fill="rgba(125,90,200,0.65)"/>
<circle cx="57.25" cy="249.90" r="0.94" fill="rgba(66,66,255,0.60)"/>
<circle cx="76.25" cy="253.00" r="1.01" fill="rgba(66,66,255,1.00)"/>
<circle cx="76.25" cy="254.50" r="0.78" fill="rgba(66,66,255,1.00)"/>
<circle cx="67.90" cy="262.40" r="0.94" fill="rgba(66,66,255,1.00)"/>
<circle cx="66.60" cy="262.20" r="0.70" fill="rgba(66,66,255,0.90)"/>
<circle cx="58.50" cy="261.10" r="0.70" fill="rgba(125,90,200,0.65)"/>
<circle cx="73.60" cy="264.60" r="0.94" fill="rgba(66,66,255,0.90)"/>
<circle cx="74.60" cy="266.80" r="0.94" fill="rgba(66,66,255,0.90)"/>
<circle cx="76.00" cy="263.80" r="0.70" fill="rgba(66,66,255,0.80)"/>
<circle cx="79.75" cy="264.90" r="1.01" fill="rgba(66,66,255,1.00)"/>
<circle cx="80.20" cy="263.20" r="0.70" fill="rgba(66,66,255,0.80)"/>
<circle cx="87.25" cy="264.20" r="0.94" fill="rgba(66,66,255,1.00)"/>
<circle cx="87.60" cy="266.40" r="1.09" fill="rgba(66,66,255,1.00)"/>
<circle cx="83.50" cy="268.00" r="0.78" fill="rgba(66,66,255,0.80)"/>
<circle cx="89.50" cy="266.80" r="0.70" fill="rgba(66,66,255,0.70)"/>
<circle cx="49.10" cy="267.00" r="1.01" fill="rgba(66,66,255,1.00)"/>
<circle cx="54.75" cy="268.60" r="0.78" fill="rgba(66,66,255,0.80)"/>
<circle cx="59.10" cy="271.10" r="1.09" fill="rgba(66,66,255,1.00)"/>
<circle cx="60.50" cy="270.20" r="0.78" fill="rgba(66,66,255,0.80)"/>
<circle cx="44.50" cy="274.25" r="1.33" fill="rgba(66,66,255,1.00)"/>
<circle cx="43.40" cy="275.50" r="0.78" fill="rgba(66,66,255,0.80)"/>
<circle cx="55.40" cy="274.60" r="1.09" fill="rgba(66,66,255,1.00)"/>
<circle cx="56.80" cy="276.60" r="1.09" fill="rgba(66,66,255,1.00)"/>
<circle cx="74.10" cy="277.40" r="0.70" fill="rgba(125,90,200,0.65)"/>
<circle cx="87.90" cy="280.90" r="0.70" fill="rgba(125,90,200,0.65)"/>
<circle cx="81.00" cy="286.10" r="0.86" fill="rgba(66,66,255,0.70)"/>
<circle cx="42.25" cy="287.40" r="1.09" fill="rgba(66,66,255,0.80)"/>
<circle cx="51.00" cy="279.50" r="0.62" fill="rgba(66,66,255,0.30)"/>
<circle cx="62.00" cy="257.00" r="0.62" fill="rgba(66,66,255,0.25)"/>
<circle cx="101.60" cy="249.00" r="0.78" fill="rgba(66,66,255,0.60)"/>
<circle cx="106.60" cy="254.25" r="0.78" fill="rgba(66,66,255,0.60)"/>
<circle cx="113.20" cy="250.60" r="1.25" fill="rgba(66,66,255,1.00)"/>
<circle cx="114.60" cy="252.40" r="0.94" fill="rgba(66,66,255,1.00)"/>
<circle cx="112.60" cy="253.50" r="0.78" fill="rgba(66,66,255,0.90)"/>
<circle cx="116.50" cy="250.00" r="0.70" fill="rgba(66,66,255,0.80)"/>
<circle cx="119.10" cy="248.60" r="0.78" fill="rgba(66,66,255,0.70)"/>
<circle cx="124.10" cy="250.50" r="0.78" fill="rgba(66,66,255,0.70)"/>
<circle cx="124.10" cy="255.25" r="0.78" fill="rgba(66,66,255,0.70)"/>
<circle cx="129.75" cy="247.40" r="1.01" fill="rgba(66,66,255,1.00)"/>
<circle cx="128.60" cy="248.80" r="0.78" fill="rgba(66,66,255,0.90)"/>
<circle cx="132.25" cy="250.50" r="0.70" fill="rgba(66,66,255,0.50)"/>
<circle cx="150.40" cy="243.00" r="0.86" fill="rgba(66,66,255,0.80)"/>
<circle cx="153.50" cy="243.60" r="0.78" fill="rgba(66,66,255,0.80)"/>
<circle cx="154.10" cy="258.00" r="0.62" fill="rgba(66,66,255,0.60)"/>
<circle cx="102.90" cy="264.25" r="0.70" fill="rgba(125,90,200,0.65)"/>
<circle cx="119.75" cy="263.60" r="0.86" fill="rgba(66,66,255,0.80)"/>
<circle cx="115.40" cy="268.60" r="0.86" fill="rgba(66,66,255,0.80)"/>
<circle cx="119.40" cy="267.00" r="0.86" fill="rgba(66,66,255,0.90)"/>
<circle cx="121.20" cy="269.00" r="0.94" fill="rgba(66,66,255,1.00)"/>
<circle cx="139.10" cy="265.50" r="1.01" fill="rgba(66,66,255,1.00)"/>
<circle cx="142.00" cy="267.00" r="0.78" fill="rgba(66,66,255,0.90)"/>
<circle cx="144.40" cy="266.20" r="1.01" fill="rgba(66,66,255,1.00)"/>
<circle cx="145.60" cy="268.60" r="0.94" fill="rgba(66,66,255,0.90)"/>
<circle cx="126.40" cy="274.60" r="0.86" fill="rgba(66,66,255,0.80)"/>
<circle cx="114.75" cy="278.00" r="0.78" fill="rgba(66,66,255,0.70)"/>
<circle cx="117.40" cy="281.80" r="1.17" fill="rgba(66,66,255,1.00)"/>
<circle cx="118.60" cy="284.20" r="1.33" fill="rgba(66,66,255,1.00)"/>
<circle cx="116.60" cy="284.00" r="0.86" fill="rgba(66,66,255,0.90)"/>
<circle cx="135.40" cy="280.60" r="1.25" fill="rgba(66,66,255,1.00)"/>
<circle cx="133.60" cy="282.60" r="1.09" fill="rgba(66,66,255,1.00)"/>
<circle cx="137.60" cy="283.40" r="1.17" fill="rgba(66,66,255,1.00)"/>
<circle cx="138.60" cy="285.40" r="1.01" fill="rgba(66,66,255,1.00)"/>
<circle cx="132.90" cy="285.50" r="0.86" fill="rgba(66,66,255,0.90)"/>
<circle cx="135.80" cy="284.60" r="0.94" fill="rgba(66,66,255,1.00)"/>
<circle cx="146.00" cy="279.90" r="0.86" fill="rgba(66,66,255,0.80)"/>
<circle cx="149.10" cy="277.40" r="0.78" fill="rgba(66,66,255,0.70)"/>
<circle cx="149.75" cy="282.40" r="0.86" fill="rgba(66,66,255,0.80)"/>
<circle cx="147.60" cy="282.60" r="0.70" fill="rgba(66,66,255,0.70)"/>
<circle cx="165.60" cy="249.25" r="0.70" fill="rgba(125,90,200,0.65)"/>
<circle cx="181.90" cy="243.25" r="0.78" fill="rgba(66,66,255,0.70)"/>
<circle cx="190.60" cy="241.90" r="0.70" fill="rgba(66,66,255,0.60)"/>
<circle cx="206.25" cy="241.90" r="0.70" fill="rgba(66,66,255,0.40)"/>
<circle cx="183.10" cy="250.50" r="0.94" fill="rgba(66,66,255,1.00)"/>
<circle cx="185.80" cy="252.40" r="0.78" fill="rgba(66,66,255,1.00)"/>
<circle cx="187.50" cy="252.75" r="0.78" fill="rgba(66,66,255,1.00)"/>
<circle cx="189.20" cy="253.10" r="0.78" fill="rgba(66,66,255,0.90)"/>
<circle cx="183.75" cy="254.90" r="0.78" fill="rgba(66,66,255,0.80)"/>
<circle cx="193.10" cy="254.25" r="0.86" fill="rgba(66,66,255,0.80)"/>
<circle cx="194.60" cy="253.20" r="0.62" fill="rgba(66,66,255,0.60)"/>
<circle cx="196.90" cy="250.25" r="0.78" fill="rgba(66,66,255,0.60)"/>
<circle cx="170.00" cy="255.50" r="0.78" fill="rgba(66,66,255,0.70)"/>
<circle cx="173.10" cy="257.40" r="0.86" fill="rgba(66,66,255,0.80)"/>
<circle cx="183.75" cy="259.90" r="0.78" fill="rgba(125,90,200,0.65)"/>
<circle cx="166.50" cy="262.20" r="0.78" fill="rgba(66,66,255,0.90)"/>
<circle cx="166.60" cy="264.20" r="0.78" fill="rgba(66,66,255,0.90)"/>
<circle cx="166.90" cy="266.40" r="0.78" fill="rgba(66,66,255,0.90)"/>
<circle cx="171.25" cy="264.90" r="0.70" fill="rgba(125,90,200,0.70)"/>
<circle cx="186.90" cy="267.75" r="1.56" fill="rgba(66,66,255,1.00)"/>
<circle cx="185.20" cy="268.60" r="0.94" fill="rgba(66,66,255,0.90)"/>
<circle cx="200.60" cy="270.25" r="1.17" fill="rgba(66,66,255,1.00)"/>
<circle cx="199.60" cy="269.00" r="0.78" fill="rgba(66,66,255,0.80)"/>
<circle cx="180.60" cy="273.00" r="0.78" fill="rgba(66,66,255,0.80)"/>
<circle cx="182.20" cy="275.20" r="0.94" fill="rgba(66,66,255,1.00)"/>
<circle cx="184.20" cy="274.80" r="0.86" fill="rgba(66,66,255,1.00)"/>
<circle cx="163.75" cy="279.90" r="0.86" fill="rgba(66,66,255,0.80)"/>
<circle cx="166.40" cy="281.60" r="0.94" fill="rgba(66,66,255,1.00)"/>
<circle cx="168.00" cy="283.00" r="1.01" fill="rgba(66,66,255,1.00)"/>
<circle cx="166.25" cy="286.10" r="1.01" fill="rgba(66,66,255,0.90)"/>
<circle cx="170.60" cy="283.90" r="0.78" fill="rgba(66,66,255,0.80)"/>
<circle cx="164.60" cy="283.20" r="0.70" fill="rgba(66,66,255,0.70)"/>
<circle cx="177.40" cy="281.00" r="0.94" fill="rgba(66,66,255,1.00)"/>
<circle cx="179.40" cy="281.40" r="0.94" fill="rgba(66,66,255,1.00)"/>
<circle cx="205.00" cy="282.40" r="0.78" fill="rgba(125,90,200,0.70)"/>
<circle cx="208.10" cy="281.75" r="0.78" fill="rgba(125,90,200,0.70)"/>
<circle cx="192.50" cy="287.40" r="0.70" fill="rgba(125,90,200,0.65)"/>
<circle cx="176.00" cy="272.00" r="0.62" fill="rgba(66,66,255,0.30)"/>
<circle cx="244.60" cy="244.50" r="0.86" fill="rgba(66,66,255,0.80)"/>
<circle cx="263.10" cy="244.90" r="0.86" fill="rgba(66,66,255,0.80)"/>
<circle cx="226.90" cy="250.50" r="0.86" fill="rgba(66,66,255,0.80)"/>
<circle cx="230.90" cy="249.60" r="0.86" fill="rgba(66,66,255,1.00)"/>
<circle cx="230.90" cy="251.60" r="0.78" fill="rgba(66,66,255,1.00)"/>
<circle cx="231.00" cy="253.40" r="0.78" fill="rgba(66,66,255,1.00)"/>
<circle cx="231.25" cy="255.50" r="0.86" fill="rgba(66,66,255,1.00)"/>
<circle cx="249.40" cy="260.60" r="0.94" fill="rgba(66,66,255,1.00)"/>
<circle cx="250.40" cy="262.20" r="0.94" fill="rgba(66,66,255,1.00)"/>
<circle cx="252.30" cy="263.00" r="0.86" fill="rgba(66,66,255,0.90)"/>
<circle cx="249.00" cy="264.90" r="0.94" fill="rgba(66,66,255,1.00)"/>
<circle cx="247.80" cy="263.00" r="0.70" fill="rgba(66,66,255,0.80)"/>
<circle cx="232.75" cy="271.10" r="0.86" fill="rgba(66,66,255,0.90)"/>
<circle cx="231.20" cy="272.40" r="0.78" fill="rgba(66,66,255,0.90)"/>
<circle cx="230.25" cy="274.25" r="0.94" fill="rgba(66,66,255,1.00)"/>
<circle cx="231.00" cy="276.20" r="0.78" fill="rgba(66,66,255,0.90)"/>
<circle cx="231.80" cy="277.80" r="0.86" fill="rgba(66,66,255,1.00)"/>
<circle cx="233.40" cy="279.90" r="0.94" fill="rgba(66,66,255,1.00)"/>
<circle cx="235.00" cy="279.60" r="0.78" fill="rgba(66,66,255,0.90)"/>
<circle cx="236.25" cy="278.20" r="0.86" fill="rgba(66,66,255,1.00)"/>
<circle cx="239.00" cy="282.00" r="0.94" fill="rgba(66,66,255,0.90)"/>
<circle cx="246.25" cy="286.10" r="0.86" fill="rgba(66,66,255,0.80)"/>
<circle cx="250.90" cy="285.50" r="0.86" fill="rgba(66,66,255,0.80)"/>
<circle cx="237.00" cy="270.00" r="0.62" fill="rgba(66,66,255,0.25)"/>
<circle cx="246.00" cy="255.00" r="0.62" fill="rgba(66,66,255,0.20)"/>
</g>
</g>
<line x1="343.00" y1="187.60" x2="343.00" y2="256.10" stroke="#000" stroke-width="0.9"/>
<line x1="342.60" y1="255.70" x2="502.20" y2="255.70" stroke="#000" stroke-width="0.9"/>
<line x1="339.80" y1="255.70" x2="343.00" y2="255.70" stroke="#000" stroke-width="0.9"/>
<text x="338.40" y="259.30" font-size="10.2" text-anchor="end" fill="#000">0</text>
<line x1="339.80" y1="238.67" x2="343.00" y2="238.67" stroke="#000" stroke-width="0.9"/>
<text x="338.40" y="242.27" font-size="10.2" text-anchor="end" fill="#000">20</text>
<line x1="339.80" y1="221.65" x2="343.00" y2="221.65" stroke="#000" stroke-width="0.9"/>
<text x="338.40" y="225.25" font-size="10.2" text-anchor="end" fill="#000">40</text>
<line x1="339.80" y1="204.62" x2="343.00" y2="204.62" stroke="#000" stroke-width="0.9"/>
<text x="338.40" y="208.22" font-size="10.2" text-anchor="end" fill="#000">60</text>
<line x1="339.80" y1="187.60" x2="343.00" y2="187.60" stroke="#000" stroke-width="0.9"/>
<text x="338.40" y="191.20" font-size="10.2" text-anchor="end" fill="#000">80</text>
<line x1="343.00" y1="255.70" x2="343.00" y2="258.50" stroke="#000" stroke-width="0.9"/>
<line x1="374.85" y1="255.70" x2="374.85" y2="258.50" stroke="#000" stroke-width="0.9"/>
<line x1="406.70" y1="255.70" x2="406.70" y2="258.50" stroke="#000" stroke-width="0.9"/>
<line x1="438.55" y1="255.70" x2="438.55" y2="258.50" stroke="#000" stroke-width="0.9"/>
<line x1="470.40" y1="255.70" x2="470.40" y2="258.50" stroke="#000" stroke-width="0.9"/>
<line x1="502.25" y1="255.70" x2="502.25" y2="258.50" stroke="#000" stroke-width="0.9"/>
<rect x="352.50" y="254.00" width="13.00" height="1.70" fill="#222"/>
<line x1="390.85" y1="216.00" x2="390.85" y2="218.20" stroke="#000" stroke-width="0.9"/>
<line x1="388.10" y1="216.00" x2="393.60" y2="216.00" stroke="#000" stroke-width="0.9"/>
<rect x="384.25" y="218.20" width="13.20" height="37.50" fill="#9d9efa" stroke="#222262" stroke-width="0.9"/>
<text x="390.85" y="214.20" font-size="7.2" text-anchor="middle" fill="#000" font-family='DejaVu Sans, sans-serif'>★</text>
<line x1="422.70" y1="205.50" x2="422.70" y2="214.25" stroke="#000" stroke-width="0.9"/>
<line x1="419.95" y1="205.50" x2="425.45" y2="205.50" stroke="#000" stroke-width="0.9"/>
<rect x="416.10" y="214.25" width="13.20" height="41.45" fill="#9d9efa" stroke="#222262" stroke-width="0.9"/>
<text x="422.70" y="203.45" font-size="7.2" text-anchor="middle" fill="#000" font-family='DejaVu Sans, sans-serif'>★</text>
<line x1="454.55" y1="215.00" x2="454.55" y2="218.75" stroke="#000" stroke-width="0.9"/>
<line x1="451.80" y1="215.00" x2="457.30" y2="215.00" stroke="#000" stroke-width="0.9"/>
<rect x="447.95" y="218.75" width="13.20" height="36.95" fill="#9d9efa" stroke="#222262" stroke-width="0.9"/>
<text x="454.55" y="212.70" font-size="7.2" text-anchor="middle" fill="#000" font-family='DejaVu Sans, sans-serif'>★</text>
<line x1="486.40" y1="224.25" x2="486.40" y2="229.25" stroke="#000" stroke-width="0.9"/>
<line x1="483.65" y1="224.25" x2="489.15" y2="224.25" stroke="#000" stroke-width="0.9"/>
<rect x="479.80" y="229.25" width="13.20" height="26.45" fill="#9d9efa" stroke="#222262" stroke-width="0.9"/>
<text x="486.40" y="221.95" font-size="7.2" text-anchor="middle" fill="#000" font-family='DejaVu Sans, sans-serif'>★</text>
<text x="359.50" y="270.10" font-size="9.6" text-anchor="middle" fill="#000">0</text>
<text x="391.00" y="270.10" font-size="9.6" text-anchor="middle" fill="#000">1</text>
<text x="422.60" y="270.10" font-size="9.6" text-anchor="middle" fill="#000">2</text>
<text x="454.60" y="270.10" font-size="9.6" text-anchor="middle" fill="#000">4</text>
<text x="486.70" y="270.10" font-size="9.6" text-anchor="middle" fill="#000">8 h</text>
<text x="343.25" y="281.30" font-size="9.5" text-anchor="start" fill="#000" textLength="158.50" lengthAdjust="spacingAndGlyphs">Exposure time  to 10 μmol/L ABDNAZ</text>
<text x="308.60" y="221.70" font-size="9.5" text-anchor="middle" fill="#000" textLength="81.00" lengthAdjust="spacingAndGlyphs" transform="rotate(-90 308.60 221.70)">H2AX-positive cells</text>
<text x="319.80" y="222.90" font-size="9.5" text-anchor="middle" fill="#000" textLength="35.70" lengthAdjust="spacingAndGlyphs" transform="rotate(-90 319.80 222.90)">(% total)</text>
<text x="18.50" y="321.40" font-size="16.4" text-anchor="start" fill="#000" font-weight="bold">C</text>
<line x1="66.25" y1="334.10" x2="66.25" y2="400.90" stroke="#000" stroke-width="0.9"/>
<line x1="65.85" y1="400.50" x2="178.50" y2="400.50" stroke="#000" stroke-width="0.9"/>
<line x1="63.05" y1="400.50" x2="66.25" y2="400.50" stroke="#000" stroke-width="0.9"/>
<text x="61.30" y="403.60" font-size="9.4" text-anchor="end" fill="#000" textLength="4.81" lengthAdjust="spacingAndGlyphs">0</text>
<line x1="63.05" y1="387.22" x2="66.25" y2="387.22" stroke="#000" stroke-width="0.9"/>
<text x="61.30" y="390.32" font-size="9.4" text-anchor="end" fill="#000" textLength="9.62" lengthAdjust="spacingAndGlyphs">20</text>
<line x1="63.05" y1="373.94" x2="66.25" y2="373.94" stroke="#000" stroke-width="0.9"/>
<text x="61.30" y="377.04" font-size="9.4" text-anchor="end" fill="#000" textLength="9.62" lengthAdjust="spacingAndGlyphs">40</text>
<line x1="63.05" y1="360.66" x2="66.25" y2="360.66" stroke="#000" stroke-width="0.9"/>
<text x="61.30" y="363.76" font-size="9.4" text-anchor="end" fill="#000" textLength="9.62" lengthAdjust="spacingAndGlyphs">60</text>
<line x1="63.05" y1="347.38" x2="66.25" y2="347.38" stroke="#000" stroke-width="0.9"/>
<text x="61.30" y="350.48" font-size="9.4" text-anchor="end" fill="#000" textLength="9.62" lengthAdjust="spacingAndGlyphs">80</text>
<line x1="63.05" y1="334.10" x2="66.25" y2="334.10" stroke="#000" stroke-width="0.9"/>
<text x="61.30" y="337.20" font-size="9.4" text-anchor="end" fill="#000" textLength="14.43" lengthAdjust="spacingAndGlyphs">100</text>
<text x="127.10" y="325.10" font-size="12.2" text-anchor="middle" fill="#000" textLength="42.20" lengthAdjust="spacingAndGlyphs">SCC VII</text>
<text x="66.75" y="415.00" font-size="9.3" text-anchor="middle" fill="#000" textLength="4.76" lengthAdjust="spacingAndGlyphs">0</text>
<text x="102.00" y="415.00" font-size="9.3" text-anchor="middle" fill="#000" textLength="9.52" lengthAdjust="spacingAndGlyphs">24</text>
<text x="138.00" y="415.00" font-size="9.3" text-anchor="middle" fill="#000" textLength="9.52" lengthAdjust="spacingAndGlyphs">48</text>
<text x="173.25" y="415.00" font-size="9.3" text-anchor="middle" fill="#000" textLength="9.52" lengthAdjust="spacingAndGlyphs">72</text>
<line x1="74.25" y1="335.75" x2="93.75" y2="335.75" stroke="#000" stroke-width="0.9"/>
<rect x="81.70" y="333.20" width="5.10" height="5.10" fill="#fff" stroke="#000" stroke-width="0.9"/>
<text x="97.00" y="338.75" font-size="8.8" text-anchor="start" fill="#000" textLength="30.50" lengthAdjust="spacingAndGlyphs">0 μmol/L</text>
<line x1="74.25" y1="345.50" x2="93.75" y2="345.50" stroke="#000" stroke-width="0.9"/>
<polygon points="80.45,345.50 84.25,342.30 88.05,345.50 84.25,348.70" fill="#000"/>
<text x="97.00" y="348.50" font-size="8.8" text-anchor="start" fill="#000" textLength="30.50" lengthAdjust="spacingAndGlyphs">2 μmol/L</text>
<line x1="74.25" y1="354.50" x2="93.75" y2="354.50" stroke="#000" stroke-width="0.9"/>
<polygon points="80.75,357.40 84.25,350.90 87.75,357.40" fill="#000"/>
<text x="97.00" y="357.50" font-size="8.8" text-anchor="start" fill="#000" textLength="30.50" lengthAdjust="spacingAndGlyphs">5 μmol/L</text>
<polyline points="66.75,400.50 103.00,400.50 139.25,400.00 175.50,400.50" fill="none" stroke="#000" stroke-width="0.9"/>
<rect x="64.20" y="397.95" width="5.10" height="5.10" fill="#fff" stroke="#000" stroke-width="0.9"/>
<rect x="100.45" y="397.95" width="5.10" height="5.10" fill="#fff" stroke="#000" stroke-width="0.9"/>
<rect x="136.70" y="397.45" width="5.10" height="5.10" fill="#fff" stroke="#000" stroke-width="0.9"/>
<rect x="172.95" y="397.95" width="5.10" height="5.10" fill="#fff" stroke="#000" stroke-width="0.9"/>
<polyline points="66.75,400.50 103.00,384.25 139.25,385.50 175.50,394.50" fill="none" stroke="#000" stroke-width="0.9"/>
<line x1="103.00" y1="382.40" x2="103.00" y2="386.10" stroke="#000" stroke-width="0.8"/>
<line x1="100.40" y1="382.40" x2="105.60" y2="382.40" stroke="#000" stroke-width="0.8"/>
<line x1="100.40" y1="386.10" x2="105.60" y2="386.10" stroke="#000" stroke-width="0.8"/>
<line x1="139.25" y1="383.60" x2="139.25" y2="387.40" stroke="#000" stroke-width="0.8"/>
<line x1="136.65" y1="383.60" x2="141.85" y2="383.60" stroke="#000" stroke-width="0.8"/>
<line x1="136.65" y1="387.40" x2="141.85" y2="387.40" stroke="#000" stroke-width="0.8"/>
<polygon points="62.95,400.50 66.75,397.30 70.55,400.50 66.75,403.70" fill="#000"/>
<polygon points="99.20,384.25 103.00,381.05 106.80,384.25 103.00,387.45" fill="#000"/>
<polygon points="135.45,385.50 139.25,382.30 143.05,385.50 139.25,388.70" fill="#000"/>
<polygon points="171.70,394.50 175.50,391.30 179.30,394.50 175.50,397.70" fill="#000"/>
<polyline points="66.75,400.50 103.00,378.75 139.25,352.50 175.50,343.75" fill="none" stroke="#000" stroke-width="0.9"/>
<line x1="103.00" y1="373.75" x2="103.00" y2="383.75" stroke="#000" stroke-width="0.8"/>
<line x1="100.40" y1="373.75" x2="105.60" y2="373.75" stroke="#000" stroke-width="0.8"/>
<line x1="100.40" y1="383.75" x2="105.60" y2="383.75" stroke="#000" stroke-width="0.8"/>
<line x1="139.25" y1="347.00" x2="139.25" y2="359.25" stroke="#000" stroke-width="0.8"/>
<line x1="136.65" y1="347.00" x2="141.85" y2="347.00" stroke="#000" stroke-width="0.8"/>
<line x1="136.65" y1="359.25" x2="141.85" y2="359.25" stroke="#000" stroke-width="0.8"/>
<line x1="175.50" y1="339.25" x2="175.50" y2="348.00" stroke="#000" stroke-width="0.8"/>
<line x1="172.90" y1="339.25" x2="178.10" y2="339.25" stroke="#000" stroke-width="0.8"/>
<line x1="172.90" y1="348.00" x2="178.10" y2="348.00" stroke="#000" stroke-width="0.8"/>
<polygon points="63.25,403.40 66.75,396.90 70.25,403.40" fill="#000"/>
<polygon points="99.50,381.65 103.00,375.15 106.50,381.65" fill="#000"/>
<polygon points="135.75,355.40 139.25,348.90 142.75,355.40" fill="#000"/>
<polygon points="172.00,346.65 175.50,340.15 179.00,346.65" fill="#000"/>
<text x="40.70" y="367.10" font-size="10" text-anchor="middle" fill="#000" textLength="63.25" lengthAdjust="spacingAndGlyphs" transform="rotate(-90 40.70 367.10)">Apoptosis (%)</text>
<line x1="226.25" y1="336.00" x2="226.25" y2="399.10" stroke="#000" stroke-width="0.9"/>
<line x1="225.85" y1="398.70" x2="343.50" y2="398.70" stroke="#000" stroke-width="0.9"/>
<line x1="223.05" y1="398.70" x2="226.25" y2="398.70" stroke="#000" stroke-width="0.9"/>
<text x="220.80" y="401.90" font-size="9.7" text-anchor="end" fill="#000" textLength="4.80" lengthAdjust="spacingAndGlyphs">0</text>
<line x1="224.25" y1="392.43" x2="226.25" y2="392.43" stroke="#000" stroke-width="0.8"/>
<line x1="223.05" y1="386.16" x2="226.25" y2="386.16" stroke="#000" stroke-width="0.9"/>
<text x="220.80" y="389.36" font-size="9.7" text-anchor="end" fill="#000" textLength="9.60" lengthAdjust="spacingAndGlyphs">20</text>
<line x1="224.25" y1="379.89" x2="226.25" y2="379.89" stroke="#000" stroke-width="0.8"/>
<line x1="223.05" y1="373.62" x2="226.25" y2="373.62" stroke="#000" stroke-width="0.9"/>
<text x="220.80" y="376.82" font-size="9.7" text-anchor="end" fill="#000" textLength="9.60" lengthAdjust="spacingAndGlyphs">40</text>
<line x1="224.25" y1="367.35" x2="226.25" y2="367.35" stroke="#000" stroke-width="0.8"/>
<line x1="223.05" y1="361.08" x2="226.25" y2="361.08" stroke="#000" stroke-width="0.9"/>
<text x="220.80" y="364.28" font-size="9.7" text-anchor="end" fill="#000" textLength="9.60" lengthAdjust="spacingAndGlyphs">60</text>
<line x1="224.25" y1="354.81" x2="226.25" y2="354.81" stroke="#000" stroke-width="0.8"/>
<line x1="223.05" y1="348.54" x2="226.25" y2="348.54" stroke="#000" stroke-width="0.9"/>
<text x="220.80" y="351.74" font-size="9.7" text-anchor="end" fill="#000" textLength="9.60" lengthAdjust="spacingAndGlyphs">80</text>
<line x1="224.25" y1="342.27" x2="226.25" y2="342.27" stroke="#000" stroke-width="0.8"/>
<line x1="223.05" y1="336.00" x2="226.25" y2="336.00" stroke="#000" stroke-width="0.9"/>
<text x="220.80" y="339.20" font-size="9.7" text-anchor="end" fill="#000" textLength="14.40" lengthAdjust="spacingAndGlyphs">100</text>
<text x="280.00" y="325.10" font-size="12.2" text-anchor="middle" fill="#000" textLength="27.50" lengthAdjust="spacingAndGlyphs">HL60</text>
<text x="227.00" y="411.90" font-size="8.8" text-anchor="middle" fill="#000" textLength="4.80" lengthAdjust="spacingAndGlyphs">0</text>
<text x="264.20" y="411.90" font-size="8.8" text-anchor="middle" fill="#000" textLength="9.59" lengthAdjust="spacingAndGlyphs">24</text>
<text x="303.00" y="411.90" font-size="8.8" text-anchor="middle" fill="#000" textLength="9.59" lengthAdjust="spacingAndGlyphs">48</text>
<text x="340.50" y="411.90" font-size="8.8" text-anchor="middle" fill="#000" textLength="9.59" lengthAdjust="spacingAndGlyphs">72</text>
<line x1="296.25" y1="355.50" x2="316.60" y2="355.50" stroke="#000" stroke-width="0.9"/>
<rect x="303.45" y="352.95" width="5.10" height="5.10" fill="#fff" stroke="#000" stroke-width="0.9"/>
<text x="319.25" y="358.50" font-size="8.8" text-anchor="start" fill="#000" textLength="30.75" lengthAdjust="spacingAndGlyphs">0 μmol/L</text>
<line x1="296.25" y1="367.40" x2="316.60" y2="367.40" stroke="#000" stroke-width="0.9"/>
<polygon points="302.20,367.40 306.00,364.20 309.80,367.40 306.00,370.60" fill="#000"/>
<text x="319.25" y="370.40" font-size="8.8" text-anchor="start" fill="#000" textLength="30.75" lengthAdjust="spacingAndGlyphs">2 μmol/L</text>
<line x1="296.25" y1="379.10" x2="316.60" y2="379.10" stroke="#000" stroke-width="0.9"/>
<polygon points="302.50,382.00 306.00,375.50 309.50,382.00" fill="#000"/>
<text x="319.25" y="382.10" font-size="8.8" text-anchor="start" fill="#000" textLength="30.75" lengthAdjust="spacingAndGlyphs">5 μmol/L</text>
<line x1="264.40" y1="398.70" x2="264.40" y2="401.60" stroke="#000" stroke-width="0.9"/>
<line x1="302.50" y1="398.70" x2="302.50" y2="401.60" stroke="#000" stroke-width="0.9"/>
<line x1="340.60" y1="398.70" x2="340.60" y2="401.60" stroke="#000" stroke-width="0.9"/>
<polyline points="226.25,398.75 239.00,396.25 264.40,398.25 302.50,398.75 340.60,398.25" fill="none" stroke="#000" stroke-width="0.9"/>
<rect x="223.70" y="396.20" width="5.10" height="5.10" fill="#fff" stroke="#000" stroke-width="0.9"/>
<rect x="236.45" y="393.70" width="5.10" height="5.10" fill="#fff" stroke="#000" stroke-width="0.9"/>
<rect x="261.85" y="395.70" width="5.10" height="5.10" fill="#fff" stroke="#000" stroke-width="0.9"/>
<rect x="299.95" y="396.20" width="5.10" height="5.10" fill="#fff" stroke="#000" stroke-width="0.9"/>
<rect x="338.05" y="395.70" width="5.10" height="5.10" fill="#fff" stroke="#000" stroke-width="0.9"/>
<polyline points="226.25,398.75 239.00,375.50 264.40,384.25 302.50,391.25 340.60,394.50" fill="none" stroke="#000" stroke-width="0.9"/>
<polygon points="222.45,398.75 226.25,395.55 230.05,398.75 226.25,401.95" fill="#000"/>
<line x1="239.00" y1="372.00" x2="239.00" y2="375.50" stroke="#000" stroke-width="0.8"/>
<line x1="236.40" y1="372.00" x2="241.60" y2="372.00" stroke="#000" stroke-width="0.8"/>
<polygon points="235.20,375.50 239.00,372.30 242.80,375.50 239.00,378.70" fill="#000"/>
<polygon points="260.60,384.25 264.40,381.05 268.20,384.25 264.40,387.45" fill="#000"/>
<polygon points="298.70,391.25 302.50,388.05 306.30,391.25 302.50,394.45" fill="#000"/>
<polygon points="336.80,394.50 340.60,391.30 344.40,394.50 340.60,397.70" fill="#000"/>
<polyline points="226.25,398.75 239.00,383.75 264.40,352.50 302.50,339.25 340.60,338.75" fill="none" stroke="#000" stroke-width="0.9"/>
<polygon points="222.75,401.65 226.25,395.15 229.75,401.65" fill="#000"/>
<polygon points="235.50,386.65 239.00,380.15 242.50,386.65" fill="#000"/>
<polygon points="260.90,355.40 264.40,348.90 267.90,355.40" fill="#000"/>
<polygon points="299.00,342.15 302.50,335.65 306.00,342.15" fill="#000"/>
<polygon points="337.10,341.65 340.60,335.15 344.10,341.65" fill="#000"/>
<text x="225.00" y="428.75" font-size="11.6" text-anchor="start" fill="#000" textLength="110.00" lengthAdjust="spacingAndGlyphs">Hours after treatment</text>
<line x1="385.60" y1="338.00" x2="385.60" y2="399.50" stroke="#000" stroke-width="0.9"/>
<line x1="385.20" y1="399.10" x2="498.60" y2="399.10" stroke="#000" stroke-width="0.9"/>
<line x1="382.40" y1="399.10" x2="385.60" y2="399.10" stroke="#000" stroke-width="0.9"/>
<text x="380.00" y="402.20" font-size="9.4" text-anchor="end" fill="#000" textLength="4.81" lengthAdjust="spacingAndGlyphs">0</text>
<line x1="382.40" y1="386.88" x2="385.60" y2="386.88" stroke="#000" stroke-width="0.9"/>
<text x="380.00" y="389.98" font-size="9.4" text-anchor="end" fill="#000" textLength="9.62" lengthAdjust="spacingAndGlyphs">10</text>
<line x1="382.40" y1="374.66" x2="385.60" y2="374.66" stroke="#000" stroke-width="0.9"/>
<text x="380.00" y="377.76" font-size="9.4" text-anchor="end" fill="#000" textLength="9.62" lengthAdjust="spacingAndGlyphs">20</text>
<line x1="382.40" y1="362.44" x2="385.60" y2="362.44" stroke="#000" stroke-width="0.9"/>
<text x="380.00" y="365.54" font-size="9.4" text-anchor="end" fill="#000" textLength="9.62" lengthAdjust="spacingAndGlyphs">30</text>
<line x1="382.40" y1="350.22" x2="385.60" y2="350.22" stroke="#000" stroke-width="0.9"/>
<text x="380.00" y="353.32" font-size="9.4" text-anchor="end" fill="#000" textLength="9.62" lengthAdjust="spacingAndGlyphs">40</text>
<line x1="382.40" y1="338.00" x2="385.60" y2="338.00" stroke="#000" stroke-width="0.9"/>
<text x="380.00" y="341.10" font-size="9.4" text-anchor="end" fill="#000" textLength="9.62" lengthAdjust="spacingAndGlyphs">50</text>
<text x="441.88" y="325.10" font-size="12.2" text-anchor="middle" fill="#000" textLength="29.75" lengthAdjust="spacingAndGlyphs">Daudi</text>
<text x="387.00" y="411.70" font-size="8.8" text-anchor="middle" fill="#000" textLength="4.80" lengthAdjust="spacingAndGlyphs">0</text>
<text x="423.60" y="411.70" font-size="8.8" text-anchor="middle" fill="#000" textLength="9.59" lengthAdjust="spacingAndGlyphs">24</text>
<text x="460.90" y="411.70" font-size="8.8" text-anchor="middle" fill="#000" textLength="9.59" lengthAdjust="spacingAndGlyphs">48</text>
<text x="497.60" y="411.70" font-size="8.8" text-anchor="middle" fill="#000" textLength="9.59" lengthAdjust="spacingAndGlyphs">72</text>
<line x1="397.50" y1="336.80" x2="417.60" y2="336.80" stroke="#000" stroke-width="0.9"/>
<rect x="404.65" y="334.25" width="5.10" height="5.10" fill="#fff" stroke="#000" stroke-width="0.9"/>
<text x="420.00" y="339.80" font-size="8.8" text-anchor="start" fill="#000" textLength="30.60" lengthAdjust="spacingAndGlyphs">0 μmol/L</text>
<line x1="397.50" y1="346.20" x2="417.60" y2="346.20" stroke="#000" stroke-width="0.9"/>
<polygon points="403.70,349.10 407.20,342.60 410.70,349.10" fill="#000"/>
<text x="420.00" y="349.20" font-size="8.8" text-anchor="start" fill="#000" textLength="30.60" lengthAdjust="spacingAndGlyphs">2 μmol/L</text>
<line x1="397.50" y1="354.70" x2="417.60" y2="354.70" stroke="#000" stroke-width="0.9"/>
<circle cx="407.20" cy="354.70" r="3.1" fill="#000"/>
<text x="420.00" y="357.70" font-size="8.8" text-anchor="start" fill="#000" textLength="30.60" lengthAdjust="spacingAndGlyphs">4 μmol/L</text>
<line x1="385.60" y1="399.10" x2="385.60" y2="401.60" stroke="#000" stroke-width="0.9"/>
<line x1="423.00" y1="399.10" x2="423.00" y2="401.60" stroke="#000" stroke-width="0.9"/>
<line x1="460.60" y1="399.10" x2="460.60" y2="401.60" stroke="#000" stroke-width="0.9"/>
<line x1="498.20" y1="399.10" x2="498.20" y2="401.60" stroke="#000" stroke-width="0.9"/>
<polyline points="385.60,391.75 398.00,390.50 423.00,387.00 460.60,392.00 498.20,393.75" fill="none" stroke="#000" stroke-width="0.9"/>
<rect x="383.05" y="389.20" width="5.10" height="5.10" fill="#fff" stroke="#000" stroke-width="0.9"/>
<rect x="395.45" y="387.95" width="5.10" height="5.10" fill="#fff" stroke="#000" stroke-width="0.9"/>
<rect x="420.45" y="384.45" width="5.10" height="5.10" fill="#fff" stroke="#000" stroke-width="0.9"/>
<rect x="458.05" y="389.45" width="5.10" height="5.10" fill="#fff" stroke="#000" stroke-width="0.9"/>
<rect x="495.65" y="391.20" width="5.10" height="5.10" fill="#fff" stroke="#000" stroke-width="0.9"/>
<polyline points="385.60,391.75 398.00,381.25 423.00,365.00 460.60,371.25 498.20,386.25" fill="none" stroke="#000" stroke-width="0.9"/>
<polygon points="382.10,394.65 385.60,388.15 389.10,394.65" fill="#000"/>
<polygon points="394.50,384.15 398.00,377.65 401.50,384.15" fill="#000"/>
<line x1="423.00" y1="359.25" x2="423.00" y2="365.00" stroke="#000" stroke-width="0.8"/>
<line x1="420.40" y1="359.25" x2="425.60" y2="359.25" stroke="#000" stroke-width="0.8"/>
<polygon points="419.50,367.90 423.00,361.40 426.50,367.90" fill="#000"/>
<line x1="460.60" y1="362.00" x2="460.60" y2="371.25" stroke="#000" stroke-width="0.8"/>
<line x1="458.00" y1="362.00" x2="463.20" y2="362.00" stroke="#000" stroke-width="0.8"/>
<polygon points="457.10,374.15 460.60,367.65 464.10,374.15" fill="#000"/>
<line x1="498.20" y1="383.00" x2="498.20" y2="386.25" stroke="#000" stroke-width="0.8"/>
<line x1="495.60" y1="383.00" x2="500.80" y2="383.00" stroke="#000" stroke-width="0.8"/>
<polygon points="494.70,389.15 498.20,382.65 501.70,389.15" fill="#000"/>
<polyline points="385.60,391.75 398.00,380.00 423.00,367.50 460.60,358.25 498.20,343.25" fill="none" stroke="#000" stroke-width="0.9"/>
<circle cx="385.60" cy="391.75" r="3.1" fill="#000"/>
<circle cx="398.00" cy="380.00" r="3.1" fill="#000"/>
<circle cx="423.00" cy="367.50" r="3.1" fill="#000"/>
<circle cx="460.60" cy="358.25" r="3.1" fill="#000"/>
<line x1="498.20" y1="338.25" x2="498.20" y2="343.25" stroke="#000" stroke-width="0.8"/>
<line x1="495.60" y1="338.25" x2="500.80" y2="338.25" stroke="#000" stroke-width="0.8"/>
<circle cx="498.20" cy="343.25" r="3.1" fill="#000"/>
<text x="18.40" y="450.00" font-size="16.4" text-anchor="start" fill="#000" font-weight="bold">D</text>
<line x1="58.00" y1="462.00" x2="58.00" y2="546.60" stroke="#000" stroke-width="0.9"/>
<line x1="57.60" y1="546.20" x2="250.90" y2="546.20" stroke="#000" stroke-width="0.9"/>
<line x1="55.00" y1="546.20" x2="58.00" y2="546.20" stroke="#000" stroke-width="0.9"/>
<text x="55.00" y="549.40" font-size="9" text-anchor="end" fill="#000">0</text>
<line x1="56.20" y1="535.68" x2="58.00" y2="535.68" stroke="#000" stroke-width="0.8"/>
<line x1="55.00" y1="525.15" x2="58.00" y2="525.15" stroke="#000" stroke-width="0.9"/>
<text x="55.00" y="528.35" font-size="9" text-anchor="end" fill="#000">10</text>
<line x1="56.20" y1="514.62" x2="58.00" y2="514.62" stroke="#000" stroke-width="0.8"/>
<line x1="55.00" y1="504.10" x2="58.00" y2="504.10" stroke="#000" stroke-width="0.9"/>
<text x="55.00" y="507.30" font-size="9" text-anchor="end" fill="#000">20</text>
<line x1="56.20" y1="493.58" x2="58.00" y2="493.58" stroke="#000" stroke-width="0.8"/>
<line x1="55.00" y1="483.05" x2="58.00" y2="483.05" stroke="#000" stroke-width="0.9"/>
<text x="55.00" y="486.25" font-size="9" text-anchor="end" fill="#000">30</text>
<line x1="56.20" y1="472.52" x2="58.00" y2="472.52" stroke="#000" stroke-width="0.8"/>
<line x1="55.00" y1="462.00" x2="58.00" y2="462.00" stroke="#000" stroke-width="0.9"/>
<text x="55.00" y="465.20" font-size="9" text-anchor="end" fill="#000">40</text>
<line x1="58.00" y1="546.20" x2="58.00" y2="548.80" stroke="#000" stroke-width="0.9"/>
<line x1="90.07" y1="546.20" x2="90.07" y2="548.80" stroke="#000" stroke-width="0.9"/>
<line x1="122.14" y1="546.20" x2="122.14" y2="548.80" stroke="#000" stroke-width="0.9"/>
<line x1="154.21" y1="546.20" x2="154.21" y2="548.80" stroke="#000" stroke-width="0.9"/>
<line x1="186.28" y1="546.20" x2="186.28" y2="548.80" stroke="#000" stroke-width="0.9"/>
<line x1="218.35" y1="546.20" x2="218.35" y2="548.80" stroke="#000" stroke-width="0.9"/>
<line x1="250.42" y1="546.20" x2="250.42" y2="548.80" stroke="#000" stroke-width="0.9"/>
<line x1="73.60" y1="542.20" x2="73.60" y2="543.00" stroke="#000" stroke-width="0.9"/>
<line x1="70.90" y1="542.20" x2="76.30" y2="542.20" stroke="#000" stroke-width="0.9"/>
<rect x="66.75" y="543.00" width="13.70" height="3.20" fill="#9d9efa" stroke="#222262" stroke-width="0.9"/>
<rect x="98.82" y="543.25" width="13.70" height="2.95" fill="#9d9efa" stroke="#222262" stroke-width="0.9"/>
<rect x="130.89" y="543.75" width="13.70" height="2.45" fill="#9d9efa" stroke="#222262" stroke-width="0.9"/>
<line x1="169.81" y1="498.75" x2="169.81" y2="503.00" stroke="#000" stroke-width="0.9"/>
<line x1="167.11" y1="498.75" x2="172.51" y2="498.75" stroke="#000" stroke-width="0.9"/>
<rect x="162.96" y="503.00" width="13.70" height="43.20" fill="#9d9efa" stroke="#222262" stroke-width="0.9"/>
<rect x="195.03" y="543.75" width="13.70" height="2.45" fill="#9d9efa" stroke="#222262" stroke-width="0.9"/>
<text x="201.88" y="538.95" font-size="7.3" text-anchor="middle" fill="#000" font-family='DejaVu Sans, sans-serif'>★</text>
<line x1="233.95" y1="470.50" x2="233.95" y2="476.25" stroke="#000" stroke-width="0.9"/>
<line x1="231.25" y1="470.50" x2="236.65" y2="470.50" stroke="#000" stroke-width="0.9"/>
<rect x="227.10" y="476.25" width="13.70" height="69.95" fill="#9d9efa" stroke="#222262" stroke-width="0.9"/>
<text x="233.95" y="467.70" font-size="7.3" text-anchor="middle" fill="#000" font-family='DejaVu Sans, sans-serif'>★</text>
<text x="153.12" y="461.80" font-size="12.1" text-anchor="middle" fill="#000" textLength="53.75" lengthAdjust="spacingAndGlyphs">HL60 cells</text>
<text x="73.30" y="557.20" font-size="7" text-anchor="middle" fill="#000" textLength="13.20" lengthAdjust="spacingAndGlyphs">CTL</text>
<text x="105.60" y="557.20" font-size="7" text-anchor="middle" fill="#000" textLength="14.75" lengthAdjust="spacingAndGlyphs">NAC</text>
<text x="137.40" y="557.20" font-size="7" text-anchor="middle" fill="#000" textLength="14.40" lengthAdjust="spacingAndGlyphs">BSO</text>
<text x="169.40" y="557.20" font-size="7" text-anchor="middle" fill="#000" textLength="28.75" lengthAdjust="spacingAndGlyphs">ABDNAZ</text>
<text x="201.00" y="557.20" font-size="7" text-anchor="middle" fill="#000" textLength="20.50" lengthAdjust="spacingAndGlyphs">NAC +</text>
<text x="201.40" y="565.90" font-size="7" text-anchor="middle" fill="#000" textLength="28.75" lengthAdjust="spacingAndGlyphs">ABDNAZ</text>
<text x="233.50" y="557.20" font-size="7" text-anchor="middle" fill="#000" textLength="20.50" lengthAdjust="spacingAndGlyphs">BSO +</text>
<text x="233.60" y="565.90" font-size="7" text-anchor="middle" fill="#000" textLength="28.75" lengthAdjust="spacingAndGlyphs">ABDNAZ</text>
<text x="37.40" y="504.60" font-size="10" text-anchor="middle" fill="#000" textLength="84.25" lengthAdjust="spacingAndGlyphs" transform="rotate(-90 37.40 504.60)">Apoptosis (% total)</text>
<line x1="290.75" y1="462.50" x2="290.75" y2="546.65" stroke="#000" stroke-width="0.9"/>
<line x1="290.35" y1="546.25" x2="494.00" y2="546.25" stroke="#000" stroke-width="0.9"/>
<line x1="287.75" y1="546.25" x2="290.75" y2="546.25" stroke="#000" stroke-width="0.9"/>
<text x="288.20" y="549.45" font-size="9" text-anchor="end" fill="#000">0</text>
<line x1="288.95" y1="532.29" x2="290.75" y2="532.29" stroke="#000" stroke-width="0.8"/>
<line x1="287.75" y1="518.33" x2="290.75" y2="518.33" stroke="#000" stroke-width="0.9"/>
<text x="288.20" y="521.53" font-size="9" text-anchor="end" fill="#000">10</text>
<line x1="288.95" y1="504.38" x2="290.75" y2="504.38" stroke="#000" stroke-width="0.8"/>
<line x1="287.75" y1="490.42" x2="290.75" y2="490.42" stroke="#000" stroke-width="0.9"/>
<text x="288.20" y="493.62" font-size="9" text-anchor="end" fill="#000">20</text>
<line x1="288.95" y1="476.46" x2="290.75" y2="476.46" stroke="#000" stroke-width="0.8"/>
<line x1="287.75" y1="462.50" x2="290.75" y2="462.50" stroke="#000" stroke-width="0.9"/>
<text x="288.20" y="465.70" font-size="9" text-anchor="end" fill="#000">30</text>
<line x1="290.75" y1="546.25" x2="290.75" y2="548.85" stroke="#000" stroke-width="0.9"/>
<line x1="324.60" y1="546.25" x2="324.60" y2="548.85" stroke="#000" stroke-width="0.9"/>
<line x1="358.45" y1="546.25" x2="358.45" y2="548.85" stroke="#000" stroke-width="0.9"/>
<line x1="392.30" y1="546.25" x2="392.30" y2="548.85" stroke="#000" stroke-width="0.9"/>
<line x1="426.15" y1="546.25" x2="426.15" y2="548.85" stroke="#000" stroke-width="0.9"/>
<line x1="460.00" y1="546.25" x2="460.00" y2="548.85" stroke="#000" stroke-width="0.9"/>
<line x1="493.85" y1="546.25" x2="493.85" y2="548.85" stroke="#000" stroke-width="0.9"/>
<line x1="307.90" y1="532.00" x2="307.90" y2="532.50" stroke="#000" stroke-width="0.9"/>
<line x1="305.20" y1="532.00" x2="310.60" y2="532.00" stroke="#000" stroke-width="0.9"/>
<rect x="301.05" y="532.50" width="13.70" height="13.75" fill="#9d9efa" stroke="#222262" stroke-width="0.9"/>
<line x1="341.75" y1="530.00" x2="341.75" y2="531.75" stroke="#000" stroke-width="0.9"/>
<line x1="339.05" y1="530.00" x2="344.45" y2="530.00" stroke="#000" stroke-width="0.9"/>
<rect x="334.90" y="531.75" width="13.70" height="14.50" fill="#9d9efa" stroke="#222262" stroke-width="0.9"/>
<line x1="375.60" y1="532.00" x2="375.60" y2="532.50" stroke="#000" stroke-width="0.9"/>
<line x1="372.90" y1="532.00" x2="378.30" y2="532.00" stroke="#000" stroke-width="0.9"/>
<rect x="368.75" y="532.50" width="13.70" height="13.75" fill="#9d9efa" stroke="#222262" stroke-width="0.9"/>
<line x1="409.45" y1="510.75" x2="409.45" y2="515.75" stroke="#000" stroke-width="0.9"/>
<line x1="406.75" y1="510.75" x2="412.15" y2="510.75" stroke="#000" stroke-width="0.9"/>
<rect x="402.60" y="515.75" width="13.70" height="30.50" fill="#9d9efa" stroke="#222262" stroke-width="0.9"/>
<rect x="436.45" y="530.00" width="13.70" height="16.25" fill="#9d9efa" stroke="#222262" stroke-width="0.9"/>
<text x="443.30" y="525.95" font-size="7.3" text-anchor="middle" fill="#000" font-family='DejaVu Sans, sans-serif'>★</text>
<line x1="477.15" y1="469.50" x2="477.15" y2="476.25" stroke="#000" stroke-width="0.9"/>
<line x1="474.45" y1="469.50" x2="479.85" y2="469.50" stroke="#000" stroke-width="0.9"/>
<rect x="470.30" y="476.25" width="13.70" height="70.00" fill="#9d9efa" stroke="#222262" stroke-width="0.9"/>
<text x="477.15" y="466.45" font-size="7.3" text-anchor="middle" fill="#000" font-family='DejaVu Sans, sans-serif'>★</text>
<text x="389.38" y="461.80" font-size="12.1" text-anchor="middle" fill="#000" textLength="56.25" lengthAdjust="spacingAndGlyphs">Daudi cells</text>
<text x="307.50" y="557.20" font-size="7" text-anchor="middle" fill="#000" textLength="12.50" lengthAdjust="spacingAndGlyphs">CTL</text>
<text x="341.50" y="557.20" font-size="7" text-anchor="middle" fill="#000" textLength="14.50" lengthAdjust="spacingAndGlyphs">NAC</text>
<text x="375.25" y="557.20" font-size="7" text-anchor="middle" fill="#000" textLength="14.50" lengthAdjust="spacingAndGlyphs">BSO</text>
<text x="409.10" y="557.20" font-size="7" text-anchor="middle" fill="#000" textLength="29.25" lengthAdjust="spacingAndGlyphs">ABDNAZ</text>
<text x="443.25" y="557.20" font-size="7" text-anchor="middle" fill="#000" textLength="15.00" lengthAdjust="spacingAndGlyphs">NAC</text>
<text x="443.40" y="565.90" font-size="7" text-anchor="middle" fill="#000" textLength="29.25" lengthAdjust="spacingAndGlyphs">ABDNAZ</text>
<text x="476.25" y="557.20" font-size="7" text-anchor="middle" fill="#000" textLength="21.00" lengthAdjust="spacingAndGlyphs">BSO +</text>
<text x="477.10" y="565.90" font-size="7" text-anchor="middle" fill="#000" textLength="29.25" lengthAdjust="spacingAndGlyphs">ABDNAZ</text>
<!-- frame -->
<rect x="514.6" y="1" width="3.4" height="582" fill="#effafc" opacity="0.8"/>
<rect x="0" y="0" width="520" height="1.15" fill="#6b7a84"/>
<rect x="0" y="0" width="1.5" height="585" fill="#6b7a84"/>
<rect x="518.2" y="0" width="1.8" height="585" fill="#62747b"/>
<rect x="0" y="582.7" width="520" height="2.3" fill="#64767e"/>
</svg>
</body>
</html>
